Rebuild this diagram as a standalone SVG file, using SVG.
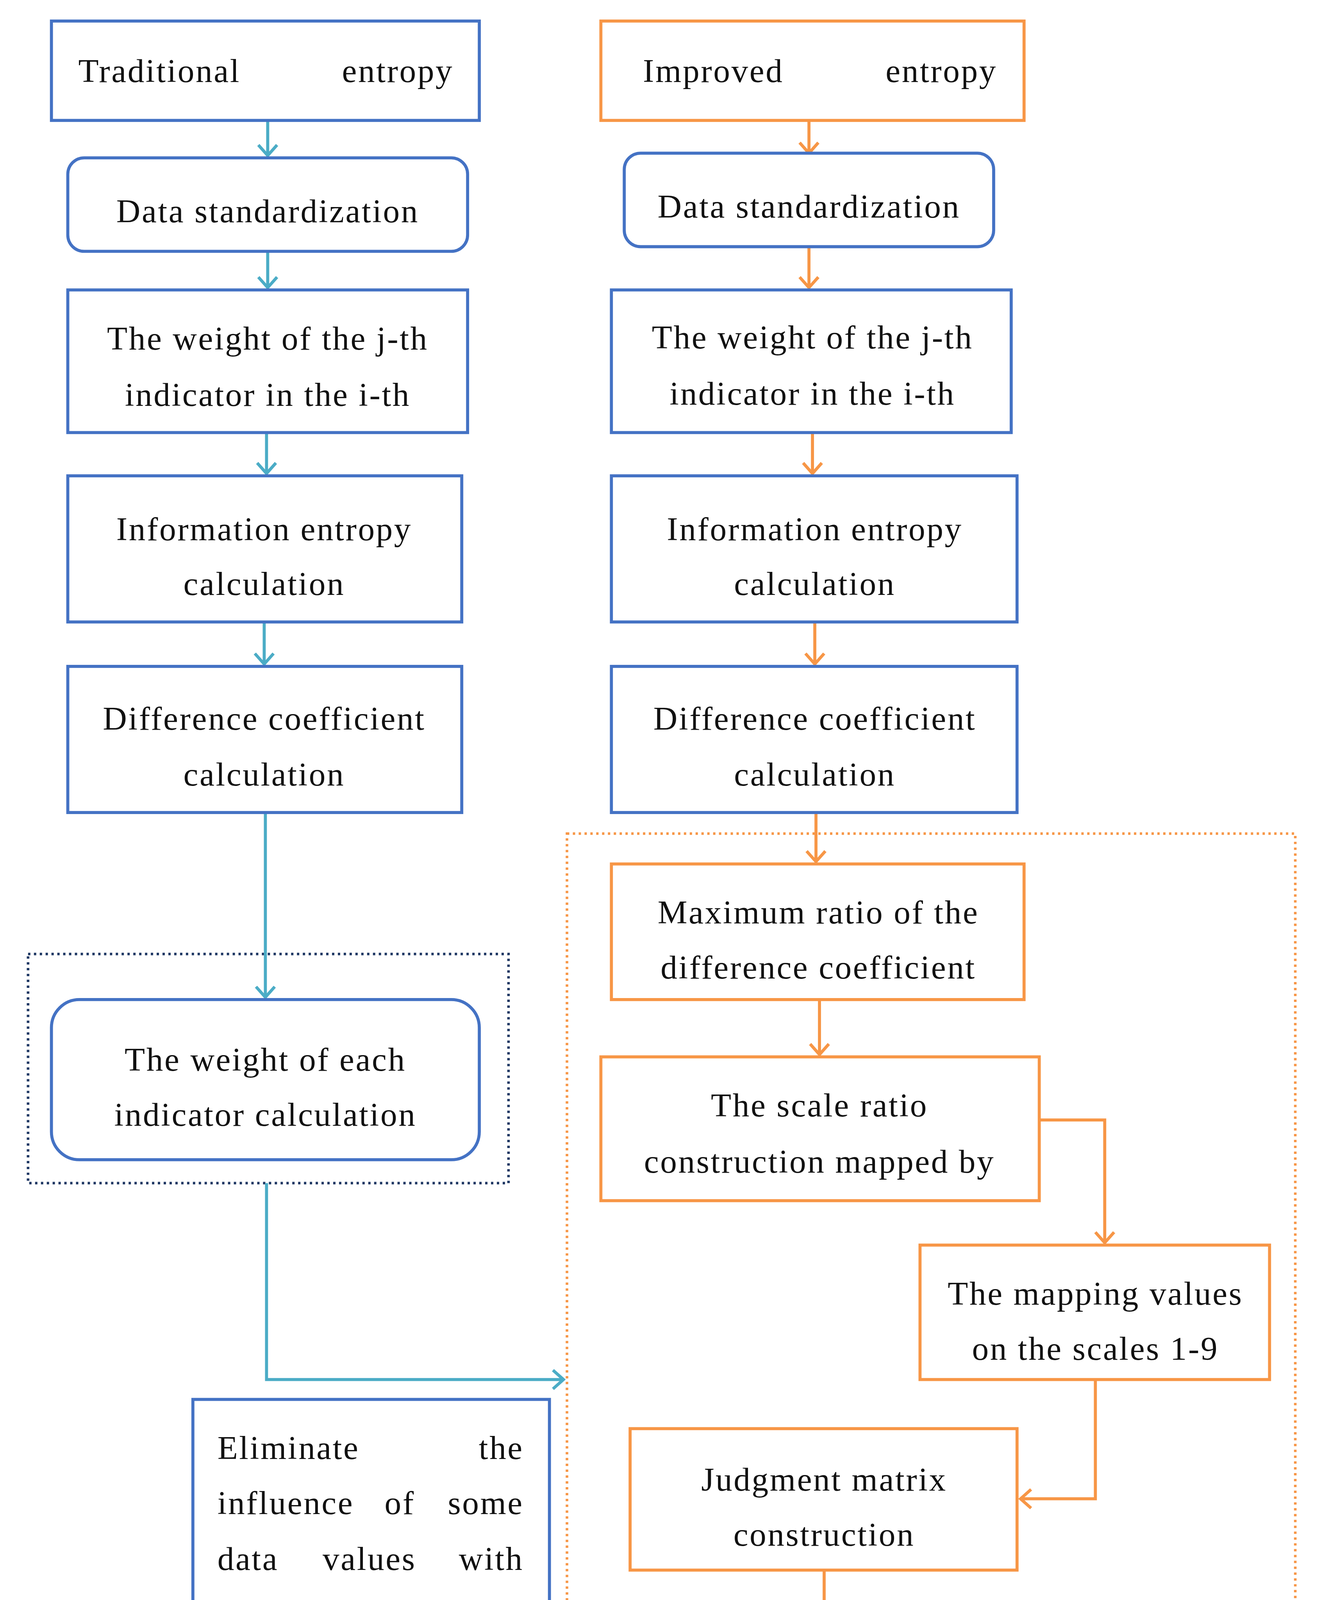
<svg xmlns="http://www.w3.org/2000/svg" width="3382" height="4670" viewBox="0 0 3382 4670">
<style>
text{font-family:"Liberation Serif","Times New Roman",serif;font-size:28.5px;letter-spacing:1.2px;fill:#111}
.c{text-anchor:middle}
.e{text-anchor:end}
.bb{fill:#fff;stroke:#4472C4;stroke-width:2.6}
.ob{fill:#fff;stroke:#F79646;stroke-width:2.6}
.tl{fill:none;stroke:#4BACC6;stroke-width:2.6}
.ol{fill:none;stroke:#F79646;stroke-width:2.6}
</style>
<defs>
<marker id="at" markerUnits="userSpaceOnUse" markerWidth="20" markerHeight="20" refX="10" refY="10" orient="auto" viewBox="0 0 20 20"><path d="M1,2 L10,10 L1,18" fill="none" stroke="#4BACC6" stroke-width="2.6"/></marker>
<marker id="ao" markerUnits="userSpaceOnUse" markerWidth="20" markerHeight="20" refX="10" refY="10" orient="auto" viewBox="0 0 20 20"><path d="M1,2 L10,10 L1,18" fill="none" stroke="#F79646" stroke-width="2.6"/></marker>
</defs>
<rect width="3382" height="4670" fill="#fff"/>
<g transform="scale(2.9929)">
<g id="frames">
<rect x="24" y="816" width="411" height="196" fill="none" stroke="#1F3864" stroke-width="2.2" stroke-dasharray="2,3"/>
<rect x="485" y="713" width="623" height="835" fill="none" stroke="#F79646" stroke-width="2.2" stroke-dasharray="2,3"/>
</g>
<g id="connectors">
<path class="tl" d="M229,103 V133" marker-end="url(#at)"/>
<path class="tl" d="M229,215 V246" marker-end="url(#at)"/>
<path class="tl" d="M228,370 V405" marker-end="url(#at)"/>
<path class="tl" d="M226,532 V568" marker-end="url(#at)"/>
<path class="tl" d="M227,695 V853" marker-end="url(#at)"/>
<path class="tl" d="M228,1012 V1180 H482" marker-end="url(#at)"/>
<path class="ol" d="M692,103 V131" marker-end="url(#ao)"/>
<path class="ol" d="M692,211 V246" marker-end="url(#ao)"/>
<path class="ol" d="M695,370 V405" marker-end="url(#ao)"/>
<path class="ol" d="M697,532 V568" marker-end="url(#ao)"/>
<path class="ol" d="M698,695 V737" marker-end="url(#ao)"/>
<path class="ol" d="M701,855 V902" marker-end="url(#ao)"/>
<path class="ol" d="M889,958 H945 V1063" marker-end="url(#ao)"/>
<path class="ol" d="M937,1180 V1282 H873" marker-end="url(#ao)"/>
<path class="ol" d="M705,1343 V1389" marker-end="url(#ao)"/>
</g>
<g id="n1"><rect class="bb" x="44" y="18" width="366" height="85"/><text x="67" y="70">Traditional</text><text class="e" x="388" y="70">entropy</text></g>
<g id="n2"><rect class="bb" x="58" y="135" width="342" height="80" rx="14"/><text class="c" x="229" y="190">Data standardization</text></g>
<g id="n3"><rect class="bb" x="58" y="248" width="342" height="122"/><text class="c" x="229" y="299">The weight of the j-th</text><text class="c" x="229" y="347">indicator in the i-th</text></g>
<g id="n4"><rect class="bb" x="58" y="407" width="337" height="125"/><text class="c" x="226" y="462">Information entropy</text><text class="c" x="226" y="509">calculation</text></g>
<g id="n5"><rect class="bb" x="58" y="570" width="337" height="125"/><text class="c" x="226" y="624">Difference coefficient</text><text class="c" x="226" y="672">calculation</text></g>
<g id="n6"><rect class="bb" x="44" y="855" width="366" height="137" rx="24"/><text class="c" x="227" y="916">The weight of each</text><text class="c" x="227" y="963">indicator calculation</text></g>
<g id="n7"><rect class="bb" x="165" y="1197" width="305" height="236"/>
<text x="186" y="1248">Eliminate</text><text class="e" x="448" y="1248">the</text>
<text x="186" y="1295">influence</text><text class="c" x="342" y="1295">of</text><text class="e" x="448" y="1295">some</text>
<text x="186" y="1343">data</text><text class="c" x="316" y="1343">values</text><text class="e" x="448" y="1343">with</text>
<text x="186" y="1390">higher</text><text class="e" x="448" y="1390">discrete</text></g>
<g id="m1"><rect class="ob" x="514" y="18" width="362" height="85"/><text x="550" y="70">Improved</text><text class="e" x="853" y="70">entropy</text></g>
<g id="m2"><rect class="bb" x="534" y="131" width="316" height="80" rx="14"/><text class="c" x="692" y="186">Data standardization</text></g>
<g id="m3"><rect class="bb" x="523" y="248" width="342" height="122"/><text class="c" x="695" y="298">The weight of the j-th</text><text class="c" x="695" y="346">indicator in the i-th</text></g>
<g id="m4"><rect class="bb" x="523" y="407" width="347" height="125"/><text class="c" x="697" y="462">Information entropy</text><text class="c" x="697" y="509">calculation</text></g>
<g id="m5"><rect class="bb" x="523" y="570" width="347" height="125"/><text class="c" x="697" y="624">Difference coefficient</text><text class="c" x="697" y="672">calculation</text></g>
<g id="m6"><rect class="ob" x="523" y="739" width="353" height="116"/><text class="c" x="700" y="790">Maximum ratio of the</text><text class="c" x="700" y="837">difference coefficient</text></g>
<g id="m7"><rect class="ob" x="514" y="904" width="375" height="123"/><text class="c" x="701" y="955">The scale ratio</text><text class="c" x="701" y="1003">construction mapped by</text></g>
<g id="m8"><rect class="ob" x="787" y="1065" width="299" height="115"/><text class="c" x="937" y="1116">The mapping values</text><text class="c" x="937" y="1163">on the scales 1-9</text></g>
<g id="m9"><rect class="ob" x="539" y="1222" width="331" height="121"/><text class="c" x="705" y="1275">Judgment matrix</text><text class="c" x="705" y="1322">construction</text></g>
<g id="m10"><rect class="ob" x="523" y="1391" width="366" height="137" rx="24"/><text class="c" x="706" y="1448">The weight calculation</text><text class="c" x="706" y="1496">by Analytic hierarchy</text></g>
</g>
</svg>
